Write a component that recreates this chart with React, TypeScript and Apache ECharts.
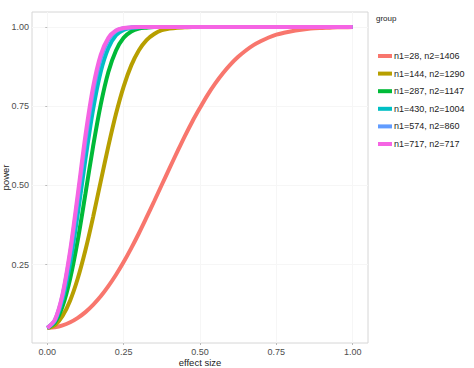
import React, { useEffect, useRef } from "react";
import * as echarts from "echarts";

const effectSize = [
  0, 0.025, 0.05, 0.075, 0.1, 0.125, 0.15, 0.175, 0.2, 0.225, 0.25, 0.275, 0.3, 0.325, 0.35,
  0.375, 0.4, 0.425, 0.45, 0.475, 0.5, 0.525, 0.55, 0.575, 0.6, 0.625, 0.65, 0.675, 0.7, 0.725,
  0.75, 0.775, 0.8, 0.825, 0.85, 0.875, 0.9, 0.925, 0.95, 0.975, 1.0,
];

const groups = [
  "n1=28, n2=1406",
  "n1=144, n2=1290",
  "n1=287, n2=1147",
  "n1=430, n2=1004",
  "n1=574, n2=860",
  "n1=717, n2=717",
];

const colors = ["#F8766D", "#B79F00", "#00BA38", "#00BFC4", "#619CFF", "#F564E3"];

const power28 = [
  0.05, 0.052, 0.058, 0.068, 0.082, 0.1, 0.123, 0.15, 0.182, 0.218, 0.258, 0.302, 0.349, 0.399,
  0.45, 0.502, 0.554, 0.605, 0.655, 0.702, 0.745, 0.786, 0.822, 0.854, 0.882, 0.906, 0.926,
  0.943, 0.956, 0.967, 0.976, 0.982, 0.987, 0.991, 0.994, 0.996, 0.997, 0.998, 0.999, 0.999, 1.0,
];
const power144 = [
  0.05, 0.059, 0.088, 0.137, 0.207, 0.296, 0.4, 0.513, 0.624, 0.726, 0.812, 0.879, 0.927, 0.959,
  0.978, 0.99, 0.995, 0.998, 0.999, 1, 1, 1, 1, 1, 1, 1, 1, 1, 1, 1, 1, 1, 1, 1, 1, 1, 1, 1, 1,
  1, 1,
];
const power287 = [
  0.05, 0.067, 0.118, 0.206, 0.328, 0.474, 0.623, 0.755, 0.858, 0.926, 0.966, 0.986, 0.995,
  0.998, 1, 1, 1, 1, 1, 1, 1, 1, 1, 1, 1, 1, 1, 1, 1, 1, 1, 1, 1, 1, 1, 1, 1, 1, 1, 1, 1,
];
const power430 = [
  0.05, 0.072, 0.14, 0.255, 0.411, 0.583, 0.74, 0.859, 0.934, 0.974, 0.991, 0.997, 0.999, 1, 1,
  1, 1, 1, 1, 1, 1, 1, 1, 1, 1, 1, 1, 1, 1, 1, 1, 1, 1, 1, 1, 1, 1, 1, 1, 1, 1,
];
const power574 = [
  0.05, 0.075, 0.153, 0.285, 0.458, 0.64, 0.795, 0.901, 0.96, 0.987, 0.996, 0.999, 1, 1, 1, 1,
  1, 1, 1, 1, 1, 1, 1, 1, 1, 1, 1, 1, 1, 1, 1, 1, 1, 1, 1, 1, 1, 1, 1, 1, 1,
];
const power717 = [
  0.05, 0.076, 0.157, 0.295, 0.473, 0.658, 0.81, 0.912, 0.966, 0.989, 0.997, 0.999, 1, 1, 1, 1,
  1, 1, 1, 1, 1, 1, 1, 1, 1, 1, 1, 1, 1, 1, 1, 1, 1, 1, 1, 1, 1, 1, 1, 1, 1,
];

const powers = [power28, power144, power287, power430, power574, power717];

const xTicks = [0, 0.25, 0.5, 0.75, 1.0];
const yTicks = [0.25, 0.5, 0.75, 1.0];

const FONT = "Liberation Sans";

export default function App() {
  const ref = useRef<HTMLDivElement>(null);

  useEffect(() => {
    if (!ref.current) return;
    const chart = echarts.init(ref.current, undefined, { renderer: "svg" });

    const series = groups.map((name, gi) => ({
      name,
      type: "line",
      data: effectSize.map((x, i) => [x, powers[gi][i]]),
      showSymbol: false,
      symbol: "none",
      lineStyle: { color: colors[gi], width: 4 },
      itemStyle: { color: colors[gi] },
      smooth: 0.3,
      z: 2 + gi,
    }));

    chart.setOption({
      animation: false,
      backgroundColor: "#ffffff",
      textStyle: { fontFamily: FONT },
      title: {
        text: "group",
        left: 376,
        top: 14,
        padding: 0,
        textStyle: { fontSize: 8, fontWeight: "normal", color: "#222", fontFamily: FONT },
      },
      legend: {
        orient: "vertical",
        left: 378,
        top: 50,
        padding: 0,
        icon: "rect",
        itemWidth: 14,
        itemHeight: 4,
        itemGap: 5.6,
        data: groups,
        textStyle: { fontSize: 9, color: "#222", fontFamily: FONT, lineHeight: 12, padding: [0, 0, 0, -3] },
        selectedMode: false,
      },
      grid: {
        left: 32,
        top: 12,
        width: 336,
        height: 331,
        containLabel: false,
        outerBoundsMode: "none",
        show: true,
        borderColor: "#d6d6d6",
        borderWidth: 1,
        backgroundColor: "#ffffff",
      },
      xAxis: {
        type: "value",
        min: -0.05,
        max: 1.05,
        name: "effect size",
        nameLocation: "middle",
        nameGap: 14,
        nameMoveOverlap: false,
        nameTextStyle: { fontSize: 9.5, color: "#222", fontFamily: FONT },
        axisLine: { show: false },
        axisTick: { show: true, length: 2, lineStyle: { color: "#bbbbbb" }, customValues: xTicks },
        axisLabel: {
          customValues: xTicks,
          formatter: (v: number) => v.toFixed(2),
          fontSize: 9,
          color: "#4d4d4d",
          margin: 4,
          fontFamily: FONT,
        },
        splitLine: { show: true, lineStyle: { color: "#f6f6f6", width: 1 } },
      },
      yAxis: {
        type: "value",
        min: 0.0025,
        max: 1.0475,
        name: "power",
        nameLocation: "middle",
        nameRotate: 90,
        nameGap: 22,
        nameMoveOverlap: false,
        nameTextStyle: { fontSize: 9.5, color: "#222", fontFamily: FONT },
        axisLine: { show: false },
        axisTick: { show: true, length: 2, lineStyle: { color: "#bbbbbb" }, customValues: yTicks },
        axisLabel: {
          customValues: yTicks,
          formatter: (v: number) => v.toFixed(2),
          fontSize: 9,
          color: "#4d4d4d",
          margin: 3,
          fontFamily: FONT,
        },
        splitLine: { show: true, lineStyle: { color: "#f6f6f6", width: 1 } },
      },
      series,
    });

    return () => chart.dispose();
  }, []);

  return (
    <div
      ref={ref}
      style={{ position: "fixed", left: 0, top: 0, width: 474, height: 368 }}
    />
  );
}
